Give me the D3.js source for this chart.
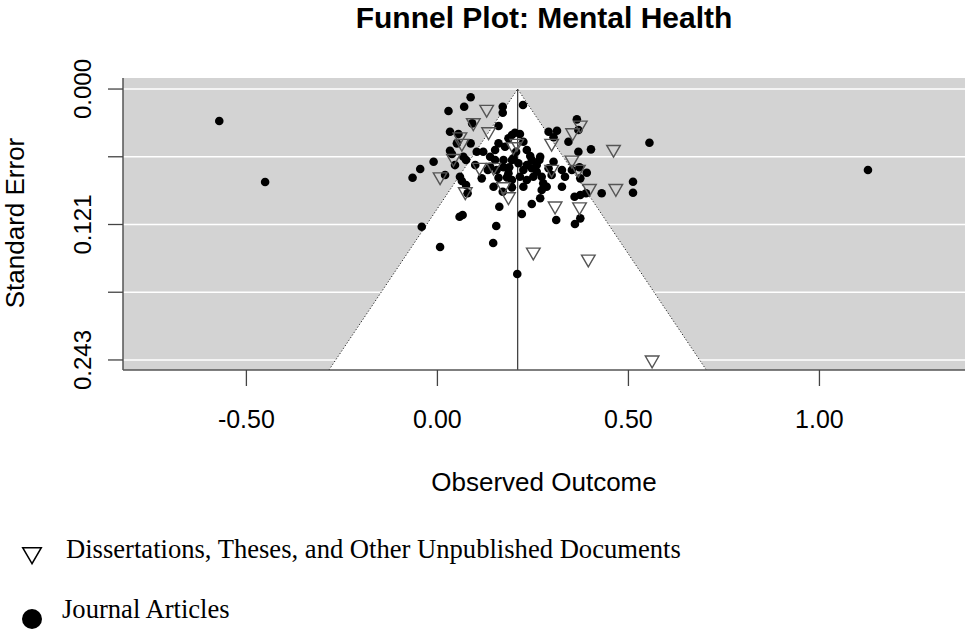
<!DOCTYPE html>
<html>
<head>
<meta charset="utf-8">
<script src="https://cdn.jsdelivr.net/npm/d3@7.9.0/dist/d3.min.js"></script>
<style>
  body { margin: 0; background: #fff; }
  svg { display: block; }
</style>
</head>
<body>
<svg width="969" height="630"></svg>
<script>
// journal articles: observed outcome and standard error
const journalEffect = [0.087, 0.070, 0.029, 0.171, 0.171, 0.224, 0.091, 0.160, 0.365, 0.369,
  0.033, 0.055, 0.087, 0.203, 0.216, 0.186, 0.291, 0.313, 0.304, 0.343,
  0.160, 0.177, 0.151, 0.120, 0.033, 0.038, 0.068, 0.075, 0.234, 0.243,
  0.269, 0.206, 0.402, 0.369, 0.555, -0.010, -0.045, -0.065, 0.020, 0.046,
  0.059, 0.064, 0.075, 0.079, 0.132, 0.116, 0.151, 0.173, 0.188, 0.160,
  0.182, 0.195, 0.147, 0.171, 0.195, 0.225, 0.234, 0.247, 0.260, 0.273,
  0.251, 0.267, 0.291, 0.299, 0.326, 0.334, 0.326, 0.286, 0.273, 0.352,
  0.372, 0.391, 0.359, 0.374, 0.389, 0.430, 0.512, 0.512, 0.269, 0.247,
  0.221, 0.162, 0.154, 0.058, 0.066, -0.041, 0.311, 0.360, 0.374, 0.225,
  0.212, 0.195, 0.138, 0.173, 0.247, -0.571, -0.451, 1.127, 0.007, 0.146,
  0.209, 0.195, 0.225, 0.199, 0.186, 0.216, 0.234, 0.260, 0.155, 0.138,
  0.103, 0.099, 0.304, 0.277, 0.374, 0.051];
const journalSE = [0.0074, 0.0159, 0.0197, 0.0159, 0.0213, 0.0143, 0.0308, 0.0332, 0.0272, 0.0368,
  0.0383, 0.0404, 0.0487, 0.0392, 0.0404, 0.0442, 0.0383, 0.0374, 0.0433, 0.0473,
  0.0487, 0.0517, 0.0547, 0.0562, 0.0553, 0.0583, 0.0607, 0.0637, 0.0547, 0.0601,
  0.0607, 0.0562, 0.0541, 0.0562, 0.0482, 0.0652, 0.0717, 0.0796, 0.0771, 0.0682,
  0.0787, 0.0825, 0.0861, 0.0935, 0.0726, 0.0801, 0.0637, 0.0637, 0.0702, 0.0796,
  0.0792, 0.0816, 0.0876, 0.0921, 0.0882, 0.0876, 0.0816, 0.0711, 0.0742, 0.0787,
  0.0787, 0.0637, 0.0711, 0.0771, 0.0726, 0.0787, 0.0876, 0.0876, 0.0906, 0.0726,
  0.0702, 0.0751, 0.0966, 0.0951, 0.0935, 0.0935, 0.0831, 0.0930, 0.0980, 0.1031,
  0.1121, 0.1056, 0.1229, 0.1145, 0.1130, 0.1235, 0.1175, 0.1211, 0.1160, 0.0726,
  0.0666, 0.0637, 0.0697, 0.0702, 0.0637, 0.0287, 0.0834, 0.0726, 0.1417, 0.1381,
  0.1659, 0.0413, 0.0473, 0.0622, 0.0756, 0.0787, 0.0682, 0.0682, 0.0726, 0.0607,
  0.0562, 0.0682, 0.0652, 0.0846, 0.0801, 0.0487];

// dissertations, theses and other unpublished documents
const dissEffect = [0.129, 0.094, 0.134, 0.059, 0.064, 0.374, 0.354, 0.299, 0.461, 0.110,
  0.007, 0.073, 0.186, 0.208, 0.352, 0.369, 0.299, 0.398, 0.467, 0.308,
  0.372, 0.042, 0.147, 0.173, 0.199, 0.251, 0.395, 0.562];
const dissSE = [0.0182, 0.0302, 0.0383, 0.0428, 0.0487, 0.0323, 0.0392, 0.0487, 0.0541, 0.0702,
  0.0787, 0.0921, 0.0966, 0.0487, 0.0637, 0.0720, 0.0720, 0.0891, 0.0891, 0.1049,
  0.1056, 0.0622, 0.0702, 0.0876, 0.0517, 0.1462, 0.1525, 0.2430];

const estimate = 0.21;
const xTicks = [-0.5, 0, 0.5, 1.0];
const xTickLabels = ['-0.50', '0.00', '0.50', '1.00'];
const yTicks = [0, 0.06075, 0.1215, 0.18225, 0.243];
const yTickLabels = ['0.000', '', '0.121', '', '0.243'];
const legendLabels = ['Dissertations, Theses, and Other Unpublished Documents', 'Journal Articles'];

const svg = d3.select('svg');
const plotLeft = 123, plotRight = 965, plotTop = 78, plotBottom = 370;

let x = d3.scaleLinear().domain([-0.823, 1.381]).range([plotLeft, plotRight]);
let y = d3.scaleLinear().domain([-0.0099, 0.252]).range([plotTop, plotBottom]);

// gray background
svg.append('rect')
  .attr('x', plotLeft).attr('y', plotTop)
  .attr('width', plotRight - plotLeft).attr('height', plotBottom - plotTop)
  .attr('fill', '#d3d3d3');

// white gridlines
svg.selectAll('.grid').data(yTicks).join('line')
  .attr('class', 'grid')
  .attr('x1', plotLeft).attr('x2', plotRight)
  .attr('y1', d => y(d)).attr('y2', d => y(d))
  .attr('stroke', '#fff').attr('stroke-width', 1.5);

// funnel region (95% pseudo confidence)
let seMax = y.domain()[1];
let funnel = [[estimate, 0], [estimate - 1.96 * seMax, seMax], [estimate + 1.96 * seMax, seMax]];
svg.append('path')
  .attr('d', d3.line().x(d => x(d[0])).y(d => y(d[1]))(funnel) + 'Z')
  .attr('fill', '#fff');
svg.append('path')
  .attr('d', d3.line().x(d => x(d[0])).y(d => y(d[1]))([funnel[1], funnel[0], funnel[2]]))
  .attr('fill', 'none').attr('stroke', '#222')
  .attr('stroke-width', 1).attr('stroke-dasharray', '1.2,2');

// reference line at the estimate
svg.append('line')
  .attr('x1', x(estimate)).attr('x2', x(estimate))
  .attr('y1', y(0)).attr('y2', plotBottom)
  .attr('stroke', '#444').attr('stroke-width', 1.3);

// axes lines
svg.append('line').attr('x1', plotLeft).attr('x2', plotLeft).attr('y1', plotTop).attr('y2', plotBottom)
  .attr('stroke', '#555').attr('stroke-width', 1.5);
svg.append('line').attr('x1', plotLeft).attr('x2', plotRight).attr('y1', plotBottom).attr('y2', plotBottom)
  .attr('stroke', '#555').attr('stroke-width', 1.5);

// x ticks
svg.selectAll('.xtick').data(xTicks).join('line')
  .attr('class', 'xtick')
  .attr('x1', d => x(d)).attr('x2', d => x(d))
  .attr('y1', plotBottom).attr('y2', plotBottom + 16)
  .attr('stroke', '#444').attr('stroke-width', 1.3);
svg.selectAll('.xlabel').data(xTicks).join('text')
  .attr('class', 'xlabel')
  .attr('x', d => x(d)).attr('y', 428)
  .attr('text-anchor', 'middle')
  .attr('font-family', 'Liberation Sans, Arial, sans-serif')
  .attr('font-size', 25)
  .text((d, i) => xTickLabels[i]);

// y ticks
svg.selectAll('.ytick').data(yTicks).join('line')
  .attr('class', 'ytick')
  .attr('x1', plotLeft - 15).attr('x2', plotLeft)
  .attr('y1', d => y(d)).attr('y2', d => y(d))
  .attr('stroke', '#444').attr('stroke-width', 1.3);
svg.selectAll('.ylabel').data(yTicks).join('text')
  .attr('class', 'ylabel')
  .attr('transform', d => `translate(91,${y(d)}) rotate(-90)`)
  .attr('text-anchor', 'middle')
  .attr('font-family', 'Liberation Sans, Arial, sans-serif')
  .attr('font-size', 24)
  .text((d, i) => yTickLabels[i]);

// points
svg.selectAll('.journal').data(journalEffect).join('circle')
  .attr('class', 'journal')
  .attr('cx', d => x(d))
  .attr('cy', (d, i) => y(journalSE[i]))
  .attr('r', 4.3)
  .attr('fill', '#000');

let tri = d3.symbol().type(d3.symbolTriangle).size(80);
svg.selectAll('.diss').data(dissEffect).join('path')
  .attr('class', 'diss')
  .attr('d', tri)
  .attr('transform', (d, i) => `translate(${x(d)},${y(dissSE[i])}) rotate(180)`)
  .attr('fill', 'none')
  .attr('stroke', '#555')
  .attr('stroke-width', 1.4);

// titles
svg.append('text')
  .attr('x', 544).attr('y', 28)
  .attr('text-anchor', 'middle')
  .attr('font-family', 'Liberation Sans, Arial, sans-serif')
  .attr('font-weight', 'bold').attr('font-size', 30)
  .text('Funnel Plot: Mental Health');
svg.append('text')
  .attr('x', 544).attr('y', 491)
  .attr('text-anchor', 'middle')
  .attr('font-family', 'Liberation Sans, Arial, sans-serif')
  .attr('font-size', 26)
  .text('Observed Outcome');
svg.append('text')
  .attr('transform', 'translate(24,223) rotate(-90)')
  .attr('text-anchor', 'middle')
  .attr('font-family', 'Liberation Sans, Arial, sans-serif')
  .attr('font-size', 26)
  .text('Standard Error');

// legend
let legendTri = d3.symbol().type(d3.symbolTriangle).size(150);
svg.append('path')
  .attr('d', legendTri)
  .attr('transform', 'translate(32,553) rotate(180)')
  .attr('fill', 'none').attr('stroke', '#000').attr('stroke-width', 1.5);
svg.append('circle')
  .attr('cx', 32).attr('cy', 619).attr('r', 10).attr('fill', '#000');
svg.selectAll('.legend').data(legendLabels).join('text')
  .attr('class', 'legend')
  .attr('x', (d, i) => i === 0 ? 66 : 62)
  .attr('y', (d, i) => i === 0 ? 558 : 618)
  .attr('font-family', 'Liberation Serif, Times New Roman, serif')
  .attr('font-size', 26.6)
  .text(d => d);
</script>
</body>
</html>
